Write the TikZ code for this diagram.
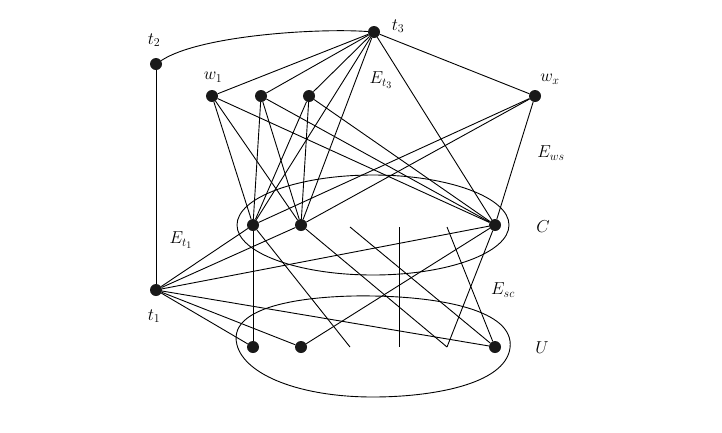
\documentclass[tikz,border=0pt]{standalone}
\begin{document}
\begin{tikzpicture}[x=1pt,y=-1pt,
  dot/.style={circle,fill=black!90,inner sep=0pt,minimum size=12pt},
  lbl/.style={font=\LARGE},
  ed/.style={line width=0.9pt}]
\useasboundingbox (0,0) rectangle (722,432);
\node[dot] (t3) at (374,32) {};
\node[dot] (t2) at (156,64) {};
\node[dot] (w1) at (212,96) {};
\node[dot] (w2) at (261,96) {};
\node[dot] (w3) at (309,96) {};
\node[dot] (wx) at (535,96) {};
\node[dot] (c1) at (253,225) {};
\node[dot] (c2) at (301,225) {};
\node[dot] (c3) at (495,225) {};
\node[dot] (t1) at (156,290) {};
\node[dot] (u1) at (253,347) {};
\node[dot] (u2) at (301,347) {};
\node[dot] (u3) at (495,347) {};
\coordinate (f1) at (350,347);
\coordinate (f2) at (350,227);
\coordinate (f3) at (399,227);
\coordinate (f4) at (399,347);
\coordinate (f5) at (447,347);
\coordinate (f6) at (447,227);
\node[lbl] at (398,26) {$t_3$};
\node[lbl] at (154,40) {$t_2$};
\node[lbl] at (213,77) {$w_1$};
\node[lbl] at (550,79) {$w_x$};
\node[lbl] at (381,80) {$E_{t_3}$};
\node[lbl] at (551,153) {$E_{ws}$};
\node[lbl] at (543,227) {$C$};
\node[lbl] at (181,240) {$E_{t_1}$};
\node[lbl] at (503,290) {$E_{sc}$};
\node[lbl] at (154,316) {$t_1$};
\node[lbl] at (542,348) {$U$};
\draw[ed] (373,225) ellipse (136 and 50);
\draw[ed] (237,345) .. controls (225,300) and (330,295) .. (373,296)
  .. controls (440,297) and (515,310) .. (510,348)
  .. controls (505,385) and (430,397) .. (373,397)
  .. controls (300,397) and (245,375) .. (237,345) -- cycle;
\begin{scope}[ed]
\draw (t2) .. controls (200,35) and (320,28) .. (t3);
\draw (t2) -- (t1);
\foreach \n in {w1,w2,w3,wx,c1,c2,c3} \draw (t3) -- (\n);
\foreach \w in {w1,w2,w3,wx} \foreach \c in {c1,c2,c3} \draw (\w) -- (\c);
\foreach \n in {c1,c2,c3,u1,u2,u3} \draw (t1) -- (\n);
\draw (c1) -- (u1);
\draw (c1) -- (f1);
\draw (f2) -- (u3);
\draw (f3) -- (f4);
\draw (c2) -- (f5);
\draw (c3) -- (f5);
\draw (f6) -- (u3);
\draw (c3) -- (u2);
\end{scope}
\end{tikzpicture}
\end{document}
